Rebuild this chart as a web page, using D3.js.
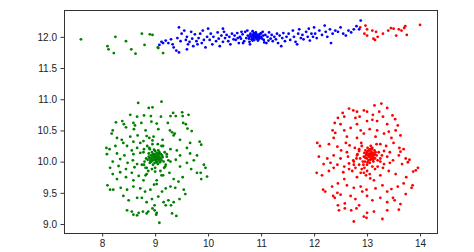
<!doctype html>
<html lang="en">
<head>
  <meta charset="utf-8">
  <title>Clusters</title>
  <style>
    body { margin: 0; background: #fff; }
    svg { display: block; font-family: "DejaVu Sans", sans-serif; }
    .frame { fill: none; stroke: #333; stroke-width: 1; }
    .axis text { font-size: 10px; fill: #222; }
    .axis line { stroke: #333; }
  </style>
</head>
<body>
  <div id="chart"></div>
  <script src="https://cdn.jsdelivr.net/npm/d3@7"></script>
  <script>
// tick values
var xTicks = [8, 9, 10, 11, 12, 13, 14];
var yTicks = [9.0, 9.5, 10.0, 10.5, 11.0, 11.5, 12.0];

// green cluster (scattered part)
var greenPts = [
  [8.68,10.94],[9.12,10.96],[8.88,10.86],[8.95,10.87],
  [9.34,10.78],[9.51,10.79],[9.63,10.75],[8.53,10.75],[8.66,10.72],[8.79,10.74],[9.29,10.73],[9.39,10.73],[9.52,10.73],[8.92,10.73],[9.11,10.72],
  [8.26,10.63],[8.38,10.65],[8.41,10.6],[8.59,10.62],[8.62,10.58],[8.74,10.62],[8.93,10.64],[9.03,10.61],[9.24,10.62],[9.53,10.62],[9.58,10.6],[8.2,10.5],[8.45,10.55],[8.6,10.52],[8.82,10.5],[9.06,10.52],[9.28,10.5],[9.61,10.53],[9.69,10.49],
  [8.18,10.45],[8.28,10.38],[8.37,10.35],[8.53,10.4],[8.67,10.42],[8.84,10.41],[8.89,10.38],[8.97,10.4],[9.32,10.47],[9.35,10.42],[9.37,10.45],[8.4,10.3],[8.59,10.32],[8.72,10.3],[8.78,10.33],[8.95,10.34],[9.14,10.35],[9.47,10.35],[9.66,10.3],[9.84,10.32],
  [8.08,10.22],[8.14,10.2],[8.25,10.25],[8.47,10.25],[8.56,10.18],[8.66,10.22],[8.79,10.2],[8.89,10.22],[9.12,10.25],[9.29,10.2],[9.41,10.18],[9.6,10.22],[9.87,10.27],[8.09,10.12],[8.28,10.13],[8.42,10.1],[8.59,10.12],[8.72,10.14],[9.22,10.12],[9.47,10.1],[9.66,10.13],[9.79,10.1],
  [8.2,10.0],[8.34,10.04],[8.48,9.98],[8.58,10.02],[8.66,9.96],[8.79,9.95],[9.29,10.0],[9.39,10.03],[9.6,9.98],[9.73,10.02],[9.92,9.95],[8.15,9.9],[8.31,9.93],[8.45,9.88],[8.61,9.91],[8.84,9.9],[8.94,9.88],[9.19,9.92],[9.47,9.92],[9.68,9.88],[9.95,9.9],
  [8.2,9.8],[8.34,9.83],[8.45,9.75],[8.56,9.82],[8.69,9.77],[8.84,9.8],[9.0,9.84],[9.15,9.78],[9.27,9.82],[9.52,9.75],[9.79,9.82],[9.86,9.82],[9.98,9.76],[9.87,9.72],[8.28,9.72],[8.59,9.7],[8.78,9.7],[9.03,9.7],[9.35,9.72],[9.44,9.68],
  [8.1,9.62],[8.15,9.55],[8.21,9.55],[8.35,9.58],[8.47,9.55],[8.59,9.6],[8.72,9.57],[8.81,9.52],[8.98,9.63],[9.03,9.64],[9.2,9.57],[9.29,9.6],[9.38,9.58],[9.54,9.55],[9.57,9.48],[8.91,9.55],[9.13,9.52],
  [8.4,9.45],[8.5,9.38],[8.66,9.42],[8.75,9.42],[8.84,9.35],[8.94,9.4],[9.06,9.44],[9.16,9.35],[9.25,9.38],[9.35,9.35],[9.46,9.4],[8.99,9.3],[9.2,9.3],[9.3,9.3],
  [8.47,9.22],[8.56,9.2],[8.69,9.18],[8.77,9.2],[8.87,9.2],[8.95,9.25],[8.99,9.22],[9.03,9.18],[8.59,9.15],[8.84,9.17],[9.02,9.15],[9.08,9.02],[9.32,9.17],[9.4,9.13],[8.66,9.14]
];
// green dense core
var greenCore = [
  [8.9,10.05],[8.92,10.1],[8.93,10.0],[8.95,10.08],[8.96,10.12],[8.97,10.03],[8.98,10.07],[8.99,9.98],[9.0,10.05],[9.0,10.1],
  [9.01,10.02],[9.02,10.08],[9.03,10.14],[9.04,10.0],[9.05,10.06],[9.06,10.11],[9.07,10.03],[9.08,10.08],[9.1,10.05],[9.12,10.02],
  [8.88,10.08],[8.94,10.15],[9.0,10.17],[9.05,9.96],[8.96,9.95],[9.11,10.12],[9.14,10.07],[8.86,10.03],[8.97,10.09],[9.03,10.04],
  [8.99,10.12],[9.02,9.99],[8.93,10.05],[9.08,10.15],[9.16,10.0],[8.9,9.98],[9.06,10.18],[8.95,10.02],[9.01,10.07],[9.04,10.1],
  [8.88,10.13],[8.91,10.01],[9.13,10.1],[9.09,9.99],[8.98,10.19],[9.07,10.13],
  [8.78,10.15],[8.82,9.9],[8.85,10.25],[8.83,10.05],[9.18,10.15],[9.2,9.95],[9.22,10.08],[8.87,9.85],[9.1,9.85],[8.8,10.0],
  [9.25,10.02],[8.9,10.2],[9.15,10.25],[8.75,9.95],[9.17,9.9],[9.0,9.9],[8.95,10.28],[9.05,10.28],[8.82,9.78],[9.12,9.78]
];
// green stray points up at y ~ 12
var greenTop = [
  [7.6,11.96],[8.1,11.85],[8.12,11.8],[8.22,11.74],[8.25,12.0],[8.45,11.93],[8.55,11.8],[8.63,11.73],
  [8.75,12.05],[8.8,11.87],[8.9,12.04],[8.95,12.03],[9.05,11.83],[9.06,11.82],[9.15,11.74]
];

// red cluster (scattered part)
var redPts = [
  [13.27,10.93],[13.14,10.9],[13.38,10.86],[12.66,10.85],[12.74,10.82],[12.81,10.8],[12.94,10.82],[13.0,10.8],[12.54,10.78],[13.23,10.8],
  [12.45,10.7],[12.57,10.72],[12.78,10.7],[12.86,10.72],[13.11,10.75],[13.19,10.65],[13.3,10.72],[13.48,10.74],[13.53,10.68],[12.39,10.62],[12.5,10.6],[12.81,10.6],[13.0,10.65],[13.1,10.67],[13.38,10.6],[13.58,10.58],
  [12.35,10.5],[12.4,10.46],[12.57,10.5],[12.69,10.54],[12.88,10.5],[12.94,10.45],[13.05,10.52],[13.19,10.5],[13.32,10.45],[13.41,10.48],[13.54,10.5],[12.37,10.38],[12.62,10.4],[12.81,10.38],[13.16,10.4],[13.46,10.38],[13.63,10.42],
  [12.06,10.3],[12.11,10.25],[12.28,10.28],[12.44,10.24],[12.6,10.3],[12.67,10.26],[12.77,10.22],[12.89,10.3],[13.25,10.28],[13.36,10.25],[13.5,10.3],[13.61,10.22],[12.51,10.18],[12.62,10.15],[12.85,10.17],[13.32,10.17],[13.43,10.15],[13.63,10.16],[13.69,10.2],
  [12.09,10.08],[12.25,10.05],[12.37,10.1],[12.5,10.05],[12.64,10.08],[12.74,10.02],[12.81,10.1],[13.25,10.05],[13.38,10.08],[13.49,10.02],[13.6,10.1],[13.73,10.05],[13.8,10.03],[12.18,9.96],[12.31,9.98],[12.44,9.95],[12.57,9.92],[12.66,9.97],[12.75,9.95],[13.32,9.96],[13.43,9.98],[13.66,9.96],[13.77,9.99],
  [12.05,9.82],[12.15,9.78],[12.28,9.85],[12.37,9.9],[12.55,9.83],[12.66,9.88],[12.72,9.85],[12.94,9.82],[13.06,9.73],[13.25,9.78],[13.41,9.85],[13.54,9.8],[13.74,9.75],[13.87,9.84],[13.96,9.9],[13.92,9.86],[12.57,9.72],[12.81,9.75],[13.13,9.7],
  [12.17,9.55],[12.21,9.52],[12.34,9.6],[12.45,9.65],[12.62,9.62],[12.75,9.58],[12.88,9.6],[12.99,9.55],[13.16,9.57],[13.29,9.62],[13.38,9.52],[13.46,9.56],[13.58,9.6],[13.69,9.65],[13.84,9.58],[13.86,9.62],[12.44,9.5],[12.91,9.52],
  [12.36,9.45],[12.39,9.42],[12.5,9.47],[12.69,9.45],[12.78,9.4],[13.0,9.45],[13.1,9.38],[13.25,9.42],[13.49,9.42],[13.52,9.38],[13.73,9.48],[12.45,9.3],[12.58,9.33],[12.85,9.3],[13.38,9.35],[13.63,9.32],
  [12.47,9.22],[12.7,9.22],[12.8,9.25],[13.0,9.18],[13.13,9.2],[13.38,9.22],[13.6,9.23],[12.94,9.12],[12.99,9.1],[13.29,9.08],[12.75,9.04],[12.58,9.25]
];
// red dense core
var redCore = [
  [12.98,10.1],[13.0,10.05],[13.0,10.15],[13.02,10.1],[13.03,10.02],[13.04,10.18],[13.05,10.08],[13.06,10.13],[13.07,10.04],[13.08,10.1],
  [13.09,10.2],[13.1,10.07],[13.11,10.14],[13.12,10.0],[13.13,10.1],[13.15,10.05],[13.16,10.15],[12.96,10.0],[12.97,10.18],[13.01,10.22],
  [13.05,9.98],[13.1,10.22],[13.18,10.1],[12.94,10.08],[13.06,10.03],[13.03,10.12],[13.08,10.16],[12.99,10.13],[13.14,10.18],[13.12,10.06],
  [13.2,10.02],[12.95,10.14],[13.07,10.25],[13.0,9.95],[13.04,10.08],[13.09,10.12],[13.11,10.03],[13.02,10.17],
  [12.97,10.06],[13.14,10.12],[13.06,10.2],[13.01,9.99],
  [12.85,9.95],[12.9,9.88],[12.92,10.0],[12.8,10.05],[12.88,9.82],[12.95,9.9],[13.0,9.85],[12.78,9.9],[13.2,9.92],[13.25,10.0],
  [13.22,10.15],[13.28,10.1],[12.85,10.2],[12.9,10.25],[13.15,9.88],[12.98,9.78],[13.05,9.8],[12.82,10.12],[13.3,9.9],[13.18,10.28],
  [12.75,10.0],[12.93,9.95],[13.1,9.92],[12.87,10.05]
];
// red stray points up at y ~ 12
var redTop = [
  [12.87,12.15],[12.95,12.05],[12.97,12.18],[13.0,12.12],[13.0,12.02],[13.1,12.1],[13.12,11.97],[13.15,11.95],[13.17,12.08],[13.2,12.0],
  [13.3,12.05],[13.4,12.1],[13.45,12.14],[13.5,12.13],[13.55,12.02],[13.6,12.12],[13.65,12.1],[13.7,12.14],[13.72,12.17],[13.75,12.03],[14.0,12.19]
];

// blue band
var bluePts = [
  [9.08,11.87],[9.12,11.92],[9.15,11.9],[9.2,11.94],[9.25,11.9],[9.3,11.96],[9.33,11.88],[9.35,11.83],[9.4,11.78],[9.45,11.75],[9.48,11.93],[9.5,12.05],[9.45,12.15],[9.42,11.98],
  [9.55,12.1],[9.58,11.95],[9.6,12.0],[9.62,11.88],[9.65,11.92],[9.7,11.97],[9.72,11.85],[9.75,12.04],[9.78,11.93],[9.8,11.88],[9.82,11.98],[9.85,12.05],[9.88,11.9],[9.9,12.1],[9.92,11.95],[9.95,11.83],[9.98,12.0],[10.0,12.13],[9.68,12.08],[9.6,11.8],
  [10.03,11.95],[10.05,12.05],[10.08,11.88],[10.1,12.0],[10.15,11.93],[10.18,12.07],[10.2,11.97],[10.22,11.85],[10.25,12.02],[10.28,11.92],[10.3,12.08],[10.32,11.98],[10.35,12.03],[10.38,11.93],[10.4,12.0],[10.42,11.88],[10.45,12.05],[10.48,11.96],[10.28,12.13],
  [10.5,12.02],[10.52,11.95],[10.55,12.06],[10.58,11.9],[10.6,12.0],[10.62,11.97],[10.65,12.04],[10.68,11.93],[10.7,12.08],[10.72,11.98],[10.75,12.02],[10.78,11.92],[10.8,12.05],[10.82,11.96],
  [10.56,11.98],[10.63,12.08],[10.66,11.9],[10.74,12.1],[10.77,11.97],[10.79,11.88],[10.84,12.09],[11.03,12.08],[11.06,11.91],[11.14,11.94],
  [11.0,12.06],[11.05,11.95],[11.08,12.03],[11.1,11.9],[11.12,12.0],[11.15,12.07],[11.18,11.97],[11.2,12.03],[11.22,11.93],[11.25,12.0],[11.28,11.96],[11.3,12.05],[11.32,11.9],[11.35,12.02],[11.38,11.85],[11.4,11.98],[11.42,12.06],[11.45,11.93],[11.48,12.0],
  [11.52,12.05],[11.55,11.95],[11.6,12.1],[11.62,12.0],[11.65,11.92],[11.7,12.05],[11.72,12.12],[11.75,11.98],[11.78,12.03],[11.8,11.96],[11.85,12.08],[11.88,12.0],[11.9,12.13],[11.92,11.94],[11.95,12.05],[11.98,12.0],[11.68,11.88],
  [12.0,12.15],[12.02,12.05],[12.05,11.98],[12.1,12.1],[12.15,12.03],[12.2,12.18],[12.22,12.08],[12.25,12.0],[12.3,12.12],[12.32,11.9],[12.35,12.05],[12.4,12.1],[12.45,12.08],[12.5,12.15],[12.55,12.05],[12.65,12.1],[12.7,12.07],[12.75,12.12],[12.8,12.17],[12.85,12.12],[12.88,12.26],[12.6,12.02]
];
// blue dense core
var blueCore = [
  [10.82,12.0],[10.84,11.97],[10.85,12.03],[10.86,12.0],[10.87,11.95],[10.88,12.02],[10.89,12.05],[10.9,11.98],[10.9,12.01],[10.91,12.04],
  [10.92,11.97],[10.93,12.0],[10.94,12.03],[10.95,11.96],[10.96,12.01],[10.97,12.04],[10.98,11.98],[11.0,12.0],[10.88,11.99],[10.92,12.02],
  [10.86,12.06],[10.94,11.94],[10.8,12.03],[11.02,11.97],[10.9,12.07],[10.95,12.0],[10.78,12.0],[11.04,12.02],[10.99,12.05],[10.84,11.94]
];

(function() {
  var width = 474, height = 252;
  var left = 64, right = 437, top = 10, bottom = 233;

  var x = d3.scaleLinear().domain([7.28, 14.32]).range([left, right]);
  var y = d3.scaleLinear().domain([8.856, 12.43]).range([bottom, top]);

  var svg = d3.select('#chart').append('svg')
      .attr('width', width)
      .attr('height', height);

  var layers = [
    { pts: greenPts.concat(greenCore, greenTop), color: '#008000' },
    { pts: redPts.concat(redCore, redTop), color: '#ff0000' },
    { pts: bluePts.concat(blueCore), color: '#0000ff' }
  ];

  layers.forEach(function(l) {
    svg.append('g').selectAll('circle')
      .data(l.pts)
      .enter().append('circle')
      .attr('cx', function(d) { return x(d[0]); })
      .attr('cy', function(d) { return y(d[1]); })
      .attr('r', 1.4)
      .attr('fill', l.color);
  });

  svg.append('g')
      .attr('class', 'axis')
      .attr('transform', 'translate(0,' + bottom + ')')
      .call(d3.axisBottom(x).tickValues(xTicks).tickFormat(d3.format('d'))
        .tickSize(3.5).tickPadding(3.5).tickSizeOuter(0))
      .call(function(g) { g.select('.domain').remove(); });

  svg.append('g')
      .attr('class', 'axis')
      .attr('transform', 'translate(' + left + ',0)')
      .call(d3.axisLeft(y).tickValues(yTicks).tickFormat(d3.format('.1f'))
        .tickSize(3.5).tickPadding(3.5).tickSizeOuter(0))
      .call(function(g) { g.select('.domain').remove(); });

  svg.append('rect')
      .attr('class', 'frame')
      .attr('x', left + 0.5)
      .attr('y', top + 0.5)
      .attr('width', right - left)
      .attr('height', bottom - top);
})();
  </script>
</body>
</html>
